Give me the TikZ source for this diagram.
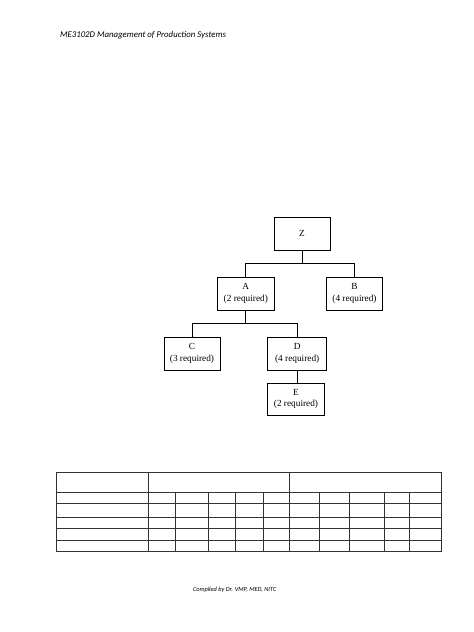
\documentclass[tikz,border=0pt]{standalone}
\usepackage{fontspec}
\setmainfont{Liberation Serif}
\newfontfamily\calib{Carlito}
\begin{document}
\begin{tikzpicture}[x=1pt,y=-1pt,
  box/.style={draw=black,line width=0.8pt,rectangle,inner sep=0pt,minimum width=56pt,minimum height=33pt,align=center,font=\fontsize{9.3}{11.3}\selectfont},
  conn/.style={draw=black,line width=0.7pt},
  grid/.style={draw=black!80,line width=0.6pt}]
\useasboundingbox (0,0) rectangle (474,632);
\fill[white] (0,0) rectangle (474,632);
\node[anchor=west,font=\calib\itshape\fontsize{8.8}{10}\selectfont] (hdr) at (56.5,35) {ME3102D Management of Production Systems};
\node[anchor=west,font=\calib\itshape\fontsize{6.3}{8}\selectfont] (ftr) at (189.5,590) {Compiled by Dr. VMP, MED, NITC};
% tree
\node[box] (Z) at (302,233.5) {Z};
\node[box,minimum width=57pt] (A) at (245.8,293.5) {A\\(2 required)};
\node[box,minimum width=55.6pt] (B) at (354.5,293.5) {B\\(4 required)};
\node[box] (C) at (192,353.5) {C\\(3 required)};
\node[box,minimum width=59pt] (D) at (297.2,353.5) {D\\(4 required)};
\node[box,minimum width=56.6pt,minimum height=32pt] (E) at (296,399) {E\\(2 required)};
\coordinate (j1) at (302,263.3);
\coordinate (j2) at (245.8,323.3);
\draw[conn] (Z.south) -- (j1);
\draw[conn] (A.north) |- (j1) -| (B.north);
\draw[conn] (A.south) -- (j2);
\draw[conn] (C.north) |- (j2) -| (D.north);
\draw[conn] (D.south) -- (D.south |- E.north);
% table
\draw[grid] (56,472) rectangle (441,551);
\foreach \y in {492.3,503.5,517.3,528.3,540} \draw[grid] (56,\y) -- (441,\y);
\foreach \x in {148.3,289} \draw[grid] (\x,472) -- (\x,551);
\foreach \x in {175.5,208.3,235.7,263.5,319.3,349.3,384.3,409.7} \draw[grid] (\x,492.3) -- (\x,551);
\end{tikzpicture}
\end{document}
